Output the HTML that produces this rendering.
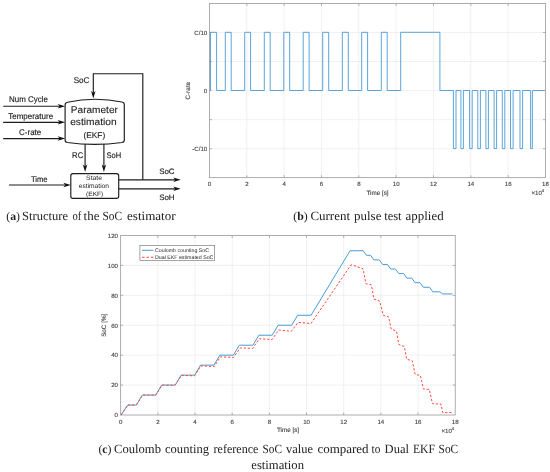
<!DOCTYPE html>
<html><head><meta charset="utf-8"><title>Figure</title>
<style>html,body{margin:0;padding:0;background:#fff}svg{display:block}</style></head>
<body>
<svg width="550" height="472" viewBox="0 0 550 472" text-rendering="geometricPrecision">
<defs><marker id="ah" viewBox="0 0 10 8" refX="10" refY="4" markerWidth="8.5" markerHeight="6.8" markerUnits="userSpaceOnUse" orient="auto"><path d="M0 0 L10 4 L0 8 L2.5 4 Z" fill="#1a1a1a"/></marker></defs>
<rect width="550" height="472" fill="#fff"/>
<g fill="none" stroke="#1c1c1c" stroke-width="1.15">
<path d="M65.1 105 Q65.1 102.6 67.4 102.2 Q94.7 96.4 122 102 Q124.3 102.4 124.3 104.8 L124.3 139.9 Q124.3 142.1 122 142.5 Q94.7 146.2 67.4 142.5 Q65.1 142.1 65.1 139.9 Z"/>
<rect x="70.8" y="173.6" width="47.9" height="24.8" rx="2.2"/>
<path d="M3.2 106.2 H61"/>
<path d="M3.2 122.3 H61"/>
<path d="M3.2 138.6 H61"/>
<path d="M9 185 H66"/>
<path d="M85.1 144 V167"/>
<path d="M103.9 144 V167"/>
<path d="M118.7 179.8 H176"/>
<path d="M118.7 188.8 H176"/>
<path d="M142.8 179.8 V73.7 H93.3 V94"/>
</g>
<path d="M65.1 106.2 L57.7 103.95 L59.6 106.2 L57.7 108.45 Z" fill="#111"/>
<path d="M65.1 122.3 L57.7 120.05 L59.6 122.3 L57.7 124.55 Z" fill="#111"/>
<path d="M65.1 138.6 L57.7 136.35 L59.6 138.6 L57.7 140.85 Z" fill="#111"/>
<path d="M70.8 185 L63.4 182.75 L65.3 185 L63.4 187.25 Z" fill="#111"/>
<path d="M85.1 171.9 L82.85 164.5 L85.1 166.4 L87.35 164.5 Z" fill="#111"/>
<path d="M103.9 171.9 L101.65 164.5 L103.9 166.4 L106.15 164.5 Z" fill="#111"/>
<path d="M180.7 179.8 L173.3 177.55 L175.2 179.8 L173.3 182.05 Z" fill="#111"/>
<path d="M180.7 188.8 L173.3 186.55 L175.2 188.8 L173.3 191.05 Z" fill="#111"/>
<path d="M93.3 98.5 L91.05 91.1 L93.3 93 L95.55 91.1 Z" fill="#111"/>
<g font-family="'Liberation Sans', Arial, sans-serif" fill="#222" stroke="#222" stroke-width="0.15">
<text x="9" y="102.1" font-size="8.3" textLength="38.8" lengthAdjust="spacingAndGlyphs">Num Cycle</text>
<text x="8.2" y="118.8" font-size="8.3" textLength="44.9" lengthAdjust="spacingAndGlyphs">Temperature</text>
<text x="19.1" y="134.9" font-size="8.3" textLength="22.1" lengthAdjust="spacingAndGlyphs">C-rate</text>
<text x="73.7" y="83.1" font-size="8.3" textLength="15.7" lengthAdjust="spacingAndGlyphs">SoC</text>
<text x="72.1" y="157.6" font-size="8.1" textLength="11.2" lengthAdjust="spacingAndGlyphs">RC</text>
<text x="106.5" y="157.6" font-size="8.1" textLength="14.7" lengthAdjust="spacingAndGlyphs">SoH</text>
<text x="31" y="182.1" font-size="8.1" textLength="16.6" lengthAdjust="spacingAndGlyphs">Time</text>
<text x="159.2" y="174" font-size="7.8" textLength="15.4" lengthAdjust="spacingAndGlyphs">SoC</text>
<text x="159.2" y="199.8" font-size="7.8" textLength="15.4" lengthAdjust="spacingAndGlyphs">SoH</text>
<text x="70.8" y="112.7" font-size="9.8" textLength="47.1" lengthAdjust="spacingAndGlyphs" stroke-width="0.1">Parameter</text>
<text x="70.2" y="125.4" font-size="9.8" textLength="46.5" lengthAdjust="spacingAndGlyphs" stroke-width="0.1">estimation</text>
<text x="83.5" y="137.8" font-size="8.3" textLength="21.7" lengthAdjust="spacingAndGlyphs">(EKF)</text>
<text x="86.1" y="179.5" font-size="6.6" textLength="15.9" lengthAdjust="spacingAndGlyphs" stroke="none">State</text>
<text x="78.8" y="188.2" font-size="6.6" textLength="30.2" lengthAdjust="spacingAndGlyphs" stroke="none">estimation</text>
<text x="86.1" y="195.9" font-size="6.3" textLength="17.2" lengthAdjust="spacingAndGlyphs" stroke="none">(EKF)</text>
</g>
<g stroke="#e8e8e8" stroke-width="0.6" fill="none">
<path d="M246.83 3.5 V177.7"/>
<path d="M284.17 3.5 V177.7"/>
<path d="M321.5 3.5 V177.7"/>
<path d="M358.83 3.5 V177.7"/>
<path d="M396.17 3.5 V177.7"/>
<path d="M433.5 3.5 V177.7"/>
<path d="M470.83 3.5 V177.7"/>
<path d="M508.17 3.5 V177.7"/>
<path d="M209.5 148.75 H545.5"/>
<path d="M209.5 119.67 H545.5"/>
<path d="M209.5 90.6 H545.5"/>
<path d="M209.5 61.52 H545.5"/>
<path d="M209.5 32.45 H545.5"/>
</g>
<rect x="209.5" y="3.5" width="336.0" height="174.2" fill="none" stroke="#8a8a8a" stroke-width="0.7"/>
<g stroke="#8a8a8a" stroke-width="0.6">
<path d="M246.83 177.7 v-2.5 M246.83 3.5 v2.5"/>
<path d="M284.17 177.7 v-2.5 M284.17 3.5 v2.5"/>
<path d="M321.5 177.7 v-2.5 M321.5 3.5 v2.5"/>
<path d="M358.83 177.7 v-2.5 M358.83 3.5 v2.5"/>
<path d="M396.17 177.7 v-2.5 M396.17 3.5 v2.5"/>
<path d="M433.5 177.7 v-2.5 M433.5 3.5 v2.5"/>
<path d="M470.83 177.7 v-2.5 M470.83 3.5 v2.5"/>
<path d="M508.17 177.7 v-2.5 M508.17 3.5 v2.5"/>
<path d="M209.5 148.75 h2.5 M545.5 148.75 h-2.5"/>
<path d="M209.5 119.67 h2.5 M545.5 119.67 h-2.5"/>
<path d="M209.5 90.6 h2.5 M545.5 90.6 h-2.5"/>
<path d="M209.5 61.52 h2.5 M545.5 61.52 h-2.5"/>
<path d="M209.5 32.45 h2.5 M545.5 32.45 h-2.5"/>
</g>
<path d="M210.5 90.5 L210.5 32.3 L216.6 32.3 L216.6 90.5 L225.3 90.5 L225.3 32.3 L231.2 32.3 L231.2 90.5 L244.7 90.5 L244.7 32.3 L250.6 32.3 L250.6 90.5 L264.3 90.5 L264.3 32.3 L270.2 32.3 L270.2 90.5 L283.8 90.5 L283.8 32.3 L289.7 32.3 L289.7 90.5 L303.2 90.5 L303.2 32.3 L309.1 32.3 L309.1 90.5 L322.7 90.5 L322.7 32.3 L328.7 32.3 L328.7 90.5 L342.3 90.5 L342.3 32.3 L348.3 32.3 L348.3 90.5 L361.7 90.5 L361.7 32.3 L367.6 32.3 L367.6 90.5 L381.3 90.5 L381.3 32.3 L387.2 32.3 L387.2 90.5 L400.7 90.5 L400.7 32.3 L439.9 32.3 L439.9 90.5 L453.4 90.5 L453.4 148.6 L456 148.6 L456 90.5 L460.9 90.5 L460.9 148.6 L463.4 148.6 L463.4 90.5 L469.6 90.5 L469.6 148.6 L472.2 148.6 L472.2 90.5 L477.8 90.5 L477.8 148.6 L480.4 148.6 L480.4 90.5 L485.9 90.5 L485.9 148.6 L488.4 148.6 L488.4 90.5 L494.1 90.5 L494.1 148.6 L496.6 148.6 L496.6 90.5 L502.3 90.5 L502.3 148.6 L504.8 148.6 L504.8 90.5 L510.5 90.5 L510.5 148.6 L513.1 148.6 L513.1 90.5 L520 90.5 L520 148.6 L522.6 148.6 L522.6 90.5 L530.6 90.5 L530.6 148.6 L532.4 148.6 L532.4 90.5 L544.5 90.5" fill="none" stroke="#4a9bd6" stroke-width="0.9" stroke-linejoin="round"/>
<g font-family="'Liberation Sans', Arial, sans-serif" fill="#404040" stroke="#404040" stroke-width="0.12" font-size="6.1">
<text x="209.5" y="186.2" text-anchor="middle">0</text>
<text x="246.83" y="186.2" text-anchor="middle">2</text>
<text x="284.17" y="186.2" text-anchor="middle">4</text>
<text x="321.5" y="186.2" text-anchor="middle">6</text>
<text x="358.83" y="186.2" text-anchor="middle">8</text>
<text x="396.17" y="186.2" text-anchor="middle">10</text>
<text x="433.5" y="186.2" text-anchor="middle">12</text>
<text x="470.83" y="186.2" text-anchor="middle">14</text>
<text x="508.17" y="186.2" text-anchor="middle">16</text>
<text x="545.5" y="186.2" text-anchor="middle">18</text>
<text x="207.2" y="34.5" text-anchor="end">C/10</text>
<text x="207.2" y="93" text-anchor="end">0</text>
<text x="207.2" y="150.7" text-anchor="end">-C/10</text>
<text x="377.5" y="194.6" text-anchor="middle" font-size="6.3">Time [s]</text>
<text transform="translate(190.4 90.8) rotate(-90)" text-anchor="middle" font-size="6.3">C-rate</text>
<text x="531.5" y="194.6">×10<tspan dy="-2.6" font-size="4.2">4</tspan></text>
</g>
<g stroke="#e8e8e8" stroke-width="0.6" fill="none">
<path d="M157.87 235.5 V415.0"/>
<path d="M195.03 235.5 V415.0"/>
<path d="M232.2 235.5 V415.0"/>
<path d="M269.37 235.5 V415.0"/>
<path d="M306.53 235.5 V415.0"/>
<path d="M343.7 235.5 V415.0"/>
<path d="M380.87 235.5 V415.0"/>
<path d="M418.03 235.5 V415.0"/>
<path d="M120.7 385.08 H455.2"/>
<path d="M120.7 355.17 H455.2"/>
<path d="M120.7 325.25 H455.2"/>
<path d="M120.7 295.33 H455.2"/>
<path d="M120.7 265.42 H455.2"/>
</g>
<rect x="120.7" y="235.5" width="334.5" height="179.5" fill="none" stroke="#8a8a8a" stroke-width="0.7"/>
<g stroke="#8a8a8a" stroke-width="0.6">
<path d="M157.87 415.0 v-2.5 M157.87 235.5 v2.5"/>
<path d="M195.03 415.0 v-2.5 M195.03 235.5 v2.5"/>
<path d="M232.2 415.0 v-2.5 M232.2 235.5 v2.5"/>
<path d="M269.37 415.0 v-2.5 M269.37 235.5 v2.5"/>
<path d="M306.53 415.0 v-2.5 M306.53 235.5 v2.5"/>
<path d="M343.7 415.0 v-2.5 M343.7 235.5 v2.5"/>
<path d="M380.87 415.0 v-2.5 M380.87 235.5 v2.5"/>
<path d="M418.03 415.0 v-2.5 M418.03 235.5 v2.5"/>
<path d="M120.7 385.08 h2.5 M455.2 385.08 h-2.5"/>
<path d="M120.7 355.17 h2.5 M455.2 355.17 h-2.5"/>
<path d="M120.7 325.25 h2.5 M455.2 325.25 h-2.5"/>
<path d="M120.7 295.33 h2.5 M455.2 295.33 h-2.5"/>
<path d="M120.7 265.42 h2.5 M455.2 265.42 h-2.5"/>
</g>
<path d="M120.7 415 L121.07 415 L127.77 405.03 L136.43 405.03 L142.3 395.05 L155.74 395.05 L161.62 385.08 L175.26 385.08 L181.13 375.11 L194.67 375.11 L200.54 365.14 L213.98 365.14 L219.86 355.16 L233.39 355.16 L239.37 345.19 L252.91 345.19 L258.88 335.22 L272.22 335.22 L278.09 325.25 L291.73 325.25 L297.61 315.27 L311.05 315.27 L350.07 250.76 L363.14 250.76 L366.47 255.32 L370.61 255.32 L373.84 259.88 L379.27 259.88 L382.6 264.44 L387.43 264.44 L390.76 269.01 L395.49 269.01 L398.73 273.57 L403.66 273.57 L406.89 278.13 L411.82 278.13 L415.05 282.69 L419.98 282.69 L423.32 287.26 L429.44 287.26 L432.77 291.82 L439.99 291.82 L442.53 293.91 L452.41 293.91" fill="none" stroke="#4a9bd6" stroke-width="1" stroke-linejoin="round"/>
<path d="M121.07 415 L127.69 405.03 L136.2 405.03 L142.68 395.06 L155.79 395.06 L162.09 385.08 L174.96 385.23 L181.58 375.36 L194.57 375.81 L200.78 365.94 L214.27 366.53 L220.36 356.81 L233.5 357.41 L240.3 347.9 L252.7 348.4 L259.3 338.7 L272.1 339.6 L278.7 330 L291.3 331.3 L298.1 322.4 L311 323.5 L351 264.9 L353 265.2 L363.1 268.8 L365.9 283.7 L371.4 284.9 L373.9 299.1 L379.6 301 L383.2 315.2 L388.6 316.8 L391.2 329.1 L396.5 331.2 L398.8 344.4 L404.3 346.5 L406.7 359.2 L412.4 360.9 L415.1 374.4 L420.4 375.5 L423.4 388.9 L429.3 389.5 L432.5 403.7 L441 404.1 L442.7 412.6 L452.5 412.6" fill="none" stroke="#ff4a3d" stroke-width="1" stroke-dasharray="2.3 1.8" stroke-linejoin="round"/>
<rect x="139.9" y="245.4" width="74.8" height="15.1" fill="#fff" stroke="#6a6a6a" stroke-width="0.6"/>
<path d="M142 250.3 H153.5" stroke="#4a9bd6" stroke-width="1"/>
<path d="M142 257.3 H153.5" stroke="#ff4a3d" stroke-width="1" stroke-dasharray="2.6 1.8"/>
<g font-family="'Liberation Sans', Arial, sans-serif" fill="#404040" stroke="#404040" stroke-width="0.12" font-size="6.1">
<text x="155" y="252" font-size="5.25" fill="#2a2a2a" stroke="none">Coulomb counting SoC</text>
<text x="155" y="258.9" font-size="5.25" fill="#2a2a2a" stroke="none">Dual EKF estimated SoC</text>
<text x="120.7" y="423.7" text-anchor="middle">0</text>
<text x="157.87" y="423.7" text-anchor="middle">2</text>
<text x="195.03" y="423.7" text-anchor="middle">4</text>
<text x="232.2" y="423.7" text-anchor="middle">6</text>
<text x="269.37" y="423.7" text-anchor="middle">8</text>
<text x="306.53" y="423.7" text-anchor="middle">10</text>
<text x="343.7" y="423.7" text-anchor="middle">12</text>
<text x="380.87" y="423.7" text-anchor="middle">14</text>
<text x="418.03" y="423.7" text-anchor="middle">16</text>
<text x="455.2" y="423.7" text-anchor="middle">18</text>
<text x="118" y="417.3" text-anchor="end">0</text>
<text x="118" y="387.38" text-anchor="end">20</text>
<text x="118" y="357.47" text-anchor="end">40</text>
<text x="118" y="327.55" text-anchor="end">60</text>
<text x="118" y="297.63" text-anchor="end">80</text>
<text x="118" y="267.72" text-anchor="end">100</text>
<text x="118" y="237.8" text-anchor="end">120</text>
<text x="288" y="431.5" text-anchor="middle" font-size="6.3">Time [s]</text>
<text transform="translate(106.1 325.3) rotate(-90)" text-anchor="middle" font-size="6.3">SoC [%]</text>
<text x="441.5" y="433">×10<tspan dy="-2.6" font-size="4.2">4</tspan></text>
</g>
<g font-family="'Liberation Serif', 'DejaVu Serif', serif" fill="#222" font-size="12.6">
<text y="219.7"><tspan x="6.2" font-size="11.8">(</tspan><tspan font-weight="bold" font-size="11.8">a</tspan><tspan font-size="11.8">)</tspan> <tspan x="22" textLength="46" lengthAdjust="spacingAndGlyphs">Structure</tspan> <tspan x="72.4" textLength="8.8" lengthAdjust="spacingAndGlyphs">of</tspan> <tspan x="83.6" textLength="15.8" lengthAdjust="spacingAndGlyphs">the</tspan> <tspan x="102.4" textLength="19.6" lengthAdjust="spacingAndGlyphs">SoC</tspan> <tspan x="127" textLength="48.6" lengthAdjust="spacingAndGlyphs">estimator</tspan></text>
<text y="219.7"><tspan x="293.2" font-size="11.8">(</tspan><tspan font-weight="bold" font-size="11.8">b</tspan><tspan font-size="11.8">)</tspan> <tspan x="310.4" textLength="39.6" lengthAdjust="spacingAndGlyphs">Current</tspan> <tspan x="354" textLength="27.4" lengthAdjust="spacingAndGlyphs">pulse</tspan> <tspan x="384.2" textLength="17.4" lengthAdjust="spacingAndGlyphs">test</tspan> <tspan x="405.6" textLength="38" lengthAdjust="spacingAndGlyphs">applied</tspan></text>
<text y="452.6"><tspan x="98.4" font-size="11.8">(</tspan><tspan font-weight="bold" font-size="11.8">c</tspan><tspan font-size="11.8">)</tspan> <tspan x="114" textLength="47" lengthAdjust="spacingAndGlyphs">Coulomb</tspan> <tspan x="165" textLength="44" lengthAdjust="spacingAndGlyphs">counting</tspan> <tspan x="213.6" textLength="44.8" lengthAdjust="spacingAndGlyphs">reference</tspan> <tspan x="262.6" textLength="19.4" lengthAdjust="spacingAndGlyphs">SoC</tspan> <tspan x="286" textLength="27" lengthAdjust="spacingAndGlyphs">value</tspan> <tspan x="317.4" textLength="51.2" lengthAdjust="spacingAndGlyphs">compared</tspan> <tspan x="371.6" textLength="8.8" lengthAdjust="spacingAndGlyphs">to</tspan> <tspan x="384.6" textLength="24.4" lengthAdjust="spacingAndGlyphs">Dual</tspan> <tspan x="413" textLength="22" lengthAdjust="spacingAndGlyphs">EKF</tspan> <tspan x="438.6" textLength="19.6" lengthAdjust="spacingAndGlyphs">SoC</tspan></text>
<text y="469.2"><tspan x="251.3" textLength="52.7" lengthAdjust="spacingAndGlyphs">estimation</tspan></text>
</g>
</svg>
</body></html>
